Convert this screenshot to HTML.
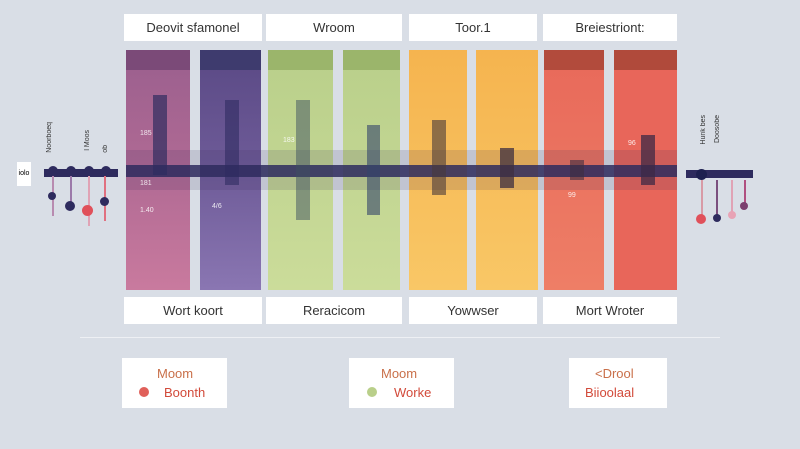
<!DOCTYPE html><html><head><style>
body{margin:0;width:800px;height:449px;background:#d9dee6;position:relative;overflow:hidden;font-family:"Liberation Sans",sans-serif}
div{position:absolute}
.b{background:#fff;color:#333;font-size:13px;text-align:center;line-height:27px}
.t{color:#fff;font-size:7px;opacity:.85}
.v{font-size:7px;color:#333;writing-mode:vertical-rl;transform:rotate(180deg)}
</style></head><body>
<div class="b" style="left:124px;top:14px;width:138px;height:27px">Deovit sfamonel</div>
<div class="b" style="left:266px;top:14px;width:136px;height:27px">Wroom</div>
<div class="b" style="left:409px;top:14px;width:128px;height:27px">Toor.1</div>
<div class="b" style="left:543px;top:14px;width:134px;height:27px">Breiestriont:</div>

<div style="left:126px;top:50px;width:64px;height:240px;background:linear-gradient(#9a5f8e,#b06a94 50%,#c97a9e)"></div>
<div style="left:126px;top:50px;width:64px;height:20px;background:#7b4a78"></div>
<div style="left:200px;top:50px;width:61px;height:240px;background:linear-gradient(#5a4985,#6e5b98 50%,#8a76b2)"></div>
<div style="left:200px;top:50px;width:61px;height:20px;background:#3e3b6e"></div>
<div style="left:268px;top:50px;width:65px;height:240px;background:linear-gradient(#b9cf8a,#cbdc9a)"></div>
<div style="left:268px;top:50px;width:65px;height:20px;background:#9bb56b"></div>
<div style="left:343px;top:50px;width:57px;height:240px;background:linear-gradient(#b9cf8a,#cbdc9a)"></div>
<div style="left:343px;top:50px;width:57px;height:20px;background:#9bb56b"></div>
<div style="left:409px;top:50px;width:58px;height:240px;background:linear-gradient(#f5b44f,#f9c766)"></div>
<div style="left:476px;top:50px;width:62px;height:240px;background:linear-gradient(#f5b44f,#f9c766)"></div>
<div style="left:544px;top:50px;width:60px;height:240px;background:linear-gradient(#e8695a,#ee7e66)"></div>
<div style="left:544px;top:50px;width:60px;height:20px;background:#b24b3c"></div>
<div style="left:614px;top:50px;width:63px;height:240px;background:#e8665a"></div>
<div style="left:614px;top:50px;width:63px;height:20px;background:#b04a3b"></div>

<div style="left:126px;top:150px;width:551px;height:40px;background:#3a3060;opacity:.15"></div>
<div style="left:126px;top:165px;width:551px;height:12px;background:#2e2b5e;opacity:.85"></div>
<div style="left:153px;top:95px;width:14px;height:80px;background:#2f2c60;opacity:.7"></div>
<div style="left:225px;top:100px;width:14px;height:85px;background:#2f2c60;opacity:.6"></div>
<div style="left:296px;top:100px;width:14px;height:120px;background:#3d5060;opacity:.5"></div>
<div style="left:367px;top:125px;width:13px;height:90px;background:#33456a;opacity:.6"></div>
<div style="left:432px;top:120px;width:14px;height:75px;background:#4a3a3a;opacity:.6"></div>
<div style="left:500px;top:148px;width:14px;height:40px;background:#3e2f40;opacity:.75"></div>
<div style="left:570px;top:160px;width:14px;height:20px;background:#3e2f40;opacity:.6"></div>
<div style="left:641px;top:135px;width:14px;height:50px;background:#3e2a45;opacity:.75"></div>
<div class="t" style="left:140px;top:130px">185</div><div class="t" style="left:140px;top:180px">181</div><div class="t" style="left:140px;top:207px">1.40</div>
<div class="t" style="left:212px;top:203px">4/6</div><div class="t" style="left:283px;top:137px">183</div>
<div class="t" style="left:568px;top:192px">99</div><div class="t" style="left:628px;top:140px">96</div>

<div class="v" style="left:46px;top:122px">Noorboeq</div>
<div class="v" style="left:84px;top:130px">l Moos</div>
<div class="v" style="left:102px;top:145px">ob</div>
<div class="v" style="left:700px;top:115px">Hunk bes</div>
<div class="v" style="left:714px;top:115px">Doosobe</div>

<div style="left:44px;top:169px;width:74px;height:8px;background:#2e2b5e"></div>
<div style="left:17px;top:162px;width:14px;height:24px;background:#fff;font-size:7px;text-align:center;line-height:24px">iolo</div>
<div style="left:48px;top:166px;width:10px;height:10px;border-radius:50%;background:#2e2b5e"></div>
<div style="left:52px;top:176px;width:2px;height:40px;background:#b88bb0"></div>
<div style="left:48px;top:192px;width:8px;height:8px;border-radius:50%;background:#2e2b5e"></div>
<div style="left:66px;top:166px;width:10px;height:10px;border-radius:50%;background:#2e2b5e"></div>
<div style="left:70px;top:176px;width:2px;height:30px;background:#9c7aaa"></div>
<div style="left:65px;top:201px;width:10px;height:10px;border-radius:50%;background:#2e2b5e"></div>
<div style="left:84px;top:166px;width:10px;height:10px;border-radius:50%;background:#2e2b5e"></div>
<div style="left:88px;top:176px;width:2px;height:50px;background:#e0a3b5"></div>
<div style="left:82px;top:205px;width:11px;height:11px;border-radius:50%;background:#e0505a"></div>
<div style="left:101px;top:166px;width:10px;height:10px;border-radius:50%;background:#2e2b5e"></div>
<div style="left:104px;top:176px;width:2px;height:45px;background:#e07080"></div>
<div style="left:100px;top:197px;width:9px;height:9px;border-radius:50%;background:#2e2b5e"></div>

<div style="left:686px;top:170px;width:67px;height:8px;background:#2e2b5e"></div>
<div style="left:696px;top:169px;width:11px;height:11px;border-radius:50%;background:#1e2050"></div>
<div style="left:701px;top:180px;width:2px;height:35px;background:#d89aa6"></div>
<div style="left:696px;top:214px;width:10px;height:10px;border-radius:50%;background:#e0505a"></div>
<div style="left:716px;top:180px;width:2px;height:35px;background:#7b4f7e"></div>
<div style="left:713px;top:214px;width:8px;height:8px;border-radius:50%;background:#2e2b5e"></div>
<div style="left:731px;top:180px;width:2px;height:32px;background:#e0a3b5"></div>
<div style="left:728px;top:211px;width:8px;height:8px;border-radius:50%;background:#e8a3b5"></div>
<div style="left:744px;top:180px;width:2px;height:28px;background:#b05080"></div>
<div style="left:740px;top:202px;width:8px;height:8px;border-radius:50%;background:#7b3f6e"></div>

<div class="b" style="left:124px;top:297px;width:138px;height:27px">Wort koort</div>
<div class="b" style="left:266px;top:297px;width:136px;height:27px">Reracicom</div>
<div class="b" style="left:409px;top:297px;width:128px;height:27px">Yowwser</div>
<div class="b" style="left:543px;top:297px;width:134px;height:27px">Mort Wroter</div>
<div style="left:80px;top:337px;width:640px;height:1px;background:#eef0f4"></div>

<div style="left:122px;top:358px;width:105px;height:50px;background:#fff;font-size:13px">
<div style="left:35px;top:8px;color:#c9704a">Moom</div><div style="left:17px;top:29px;width:10px;height:10px;border-radius:50%;background:#e0605a"></div><div style="left:42px;top:27px;color:#d24a3a">Boonth</div></div>
<div style="left:349px;top:358px;width:105px;height:50px;background:#fff;font-size:13px">
<div style="left:32px;top:8px;color:#c9704a">Moom</div><div style="left:18px;top:29px;width:10px;height:10px;border-radius:50%;background:#b9cf8a"></div><div style="left:45px;top:27px;color:#d24a3a">Worke</div></div>
<div style="left:569px;top:358px;width:98px;height:50px;background:#fff;font-size:13px">
<div style="left:26px;top:8px;color:#c9704a">&lt;Drool</div><div style="left:16px;top:27px;color:#d24a3a">Biioolaal</div></div>
</body></html>
